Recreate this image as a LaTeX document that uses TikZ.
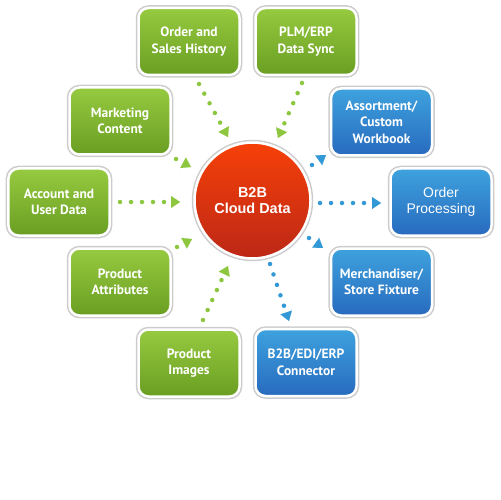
\documentclass[tikz,border=0pt]{standalone}
\usepackage{fontspec}
\setmainfont{PT Sans}
\newfontfamily\arialfont{Liberation Sans}
\usetikzlibrary{arrows.meta}
\definecolor{leafgreen}{RGB}{141,198,63}
\definecolor{leafgreentop}{RGB}{150,202,64}
\definecolor{leafgreenbottom}{RGB}{106,158,34}
\definecolor{skyblue}{RGB}{51,153,214}
\definecolor{skybluetop}{RGB}{62,162,222}
\definecolor{skybluebottom}{RGB}{40,106,190}
\definecolor{cloudtop}{RGB}{246,64,8}
\definecolor{cloudbottom}{RGB}{188,40,22}

\begin{document}
\begin{tikzpicture}[x=1bp, y=-1bp]
            \tikzstyle{every node} = [text=white, align=center, font=\bfseries\fontsize{13.5}{16.5}\selectfont]
            \tikzstyle{tile} = [rectangle, rounded corners=10bp, minimum width=101bp, minimum height=67bp,
                draw=white, line width=2.5bp, preaction={draw=black!20, line width=5.5bp}]
            \tikzstyle{source} = [tile, top color=leafgreentop, bottom color=leafgreenbottom]
            \tikzstyle{target} = [tile, top color=skybluetop, bottom color=skybluebottom]
            \tikzstyle{feed} = [leafgreen, line width=4.5bp, line cap=round, dash pattern=on 0bp off 11bp,
                -{Triangle[length=9bp, width=12bp, line width=0.1bp]}]
            \tikzstyle{push} = [feed, skyblue]
            \useasboundingbox (0,0) rectangle (500,500);

            \node[circle, minimum size=116bp, draw=white, line width=2.5bp,
                preaction={draw=black!20, line width=5.5bp},
                top color=cloudtop, bottom color=cloudbottom,
                font=\arialfont\bfseries\fontsize{14.5}{16.5}\selectfont] (cloud) at (252.5, 200.5) {B2B\\Cloud Data};

            \node[source] (history) at (189, 41.5) {Order and\\Sales History};
            \node[source] (plm) at (306, 41.5) {PLM/ERP\\Data Sync};
            \node[source] (marketing) at (120, 121) {Marketing\\Content};
            \node[target] (workbook) at (381.5, 122) {Assortment/\\Custom\\Workbook};
            \node[source] (account) at (59, 202) {Account and\\User Data};
            \node[target, font=\arialfont\fontsize{14}{15.5}\selectfont] (orders) at (441, 202) {Order\\Processing};
            \node[source] (attributes) at (120, 282) {Product\\Attributes};
            \node[target] (fixture) at (381.5, 282) {Merchandiser/\\Store Fixture};
            \node[source] (images) at (189, 363) {Product\\Images};
            \node[target] (connector) at (306, 362.5) {B2B/EDI/ERP\\Connector};

            % feeds into the cloud
            \coordinate (history-a) at (199, 84);   \coordinate (history-b) at (228, 137);
            \coordinate (plm-a) at (302, 83);       \coordinate (plm-b) at (278, 138);
            \coordinate (marketing-a) at (176, 159); \coordinate (marketing-b) at (191, 167);
            \coordinate (account-a) at (120, 202);  \coordinate (account-b) at (180, 202);
            \coordinate (attributes-a) at (177, 247); \coordinate (attributes-b) at (192, 239);
            \coordinate (images-a) at (203, 320);   \coordinate (images-b) at (228, 266);
            \draw[feed] (history-a) -- (history-b);
            \draw[feed] (plm-a) -- (plm-b);
            \draw[feed] (marketing-a) -- (marketing-b);
            \draw[feed] (account-a) -- (account-b);
            \draw[feed] (attributes-a) -- (attributes-b);
            \draw[feed] (images-a) -- (images-b);

            % pushes out of the cloud
            \coordinate (workbook-a) at (312, 165); \coordinate (workbook-b) at (326, 155);
            \coordinate (orders-a) at (320, 203);   \coordinate (orders-b) at (381, 203);
            \coordinate (fixture-a) at (309, 238);  \coordinate (fixture-b) at (323, 248);
            \coordinate (connector-a) at (270, 264); \coordinate (connector-b) at (289, 321);
            \draw[push] (workbook-a) -- (workbook-b);
            \draw[push] (orders-a) -- (orders-b);
            \draw[push] (fixture-a) -- (fixture-b);
            \draw[push] (connector-a) -- (connector-b);
\end{tikzpicture}
\end{document}
